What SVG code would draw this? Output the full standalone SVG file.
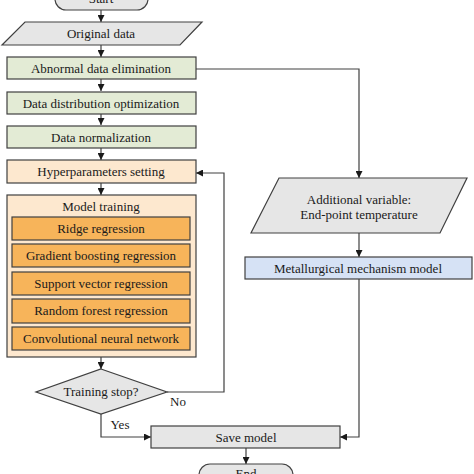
<svg xmlns="http://www.w3.org/2000/svg" width="474" height="474" viewBox="0 0 474 474">
<defs>
<style>
.b{stroke:#404040;stroke-width:1.2}
.g{fill:#e6e6e6}
.gr{fill:#e3ebd5}
.pe{fill:#fde8cf}
.or{fill:#f7b45a}
.bl{fill:#d6e2f5}
.c{fill:none;stroke:#404040;stroke-width:1.2}
</style>
<marker id="a" viewBox="0 0 10 10" refX="10" refY="5" markerWidth="7" markerHeight="7" orient="auto" markerUnits="userSpaceOnUse">
<path d="M0,0 L10,5 L0,10 z" fill="#1a1a1a"/>
</marker>
</defs>
<rect width="474" height="474" fill="#ffffff"/>
<g font-family="Liberation Serif, serif" font-size="13" fill="#1a1a1a" text-anchor="middle">
<g id="connectors">
<line class="c" x1="101" y1="10" x2="101" y2="22" marker-end="url(#a)"/>
<line class="c" x1="101" y1="45" x2="101" y2="57" marker-end="url(#a)"/>
<line class="c" x1="101" y1="79" x2="101" y2="91" marker-end="url(#a)"/>
<line class="c" x1="101" y1="114" x2="101" y2="125" marker-end="url(#a)"/>
<line class="c" x1="101" y1="148" x2="101" y2="160" marker-end="url(#a)"/>
<line class="c" x1="101" y1="183" x2="101" y2="195" marker-end="url(#a)"/>
<line class="c" x1="101" y1="357" x2="101" y2="369" marker-end="url(#a)"/>
<polyline class="c" points="167,392 224,392 224,173 196,173" marker-end="url(#a)"/>
<polyline class="c" points="101,414 101,437 151,437" marker-end="url(#a)"/>
<polyline class="c" points="196,69 359,69 359,178" marker-end="url(#a)"/>
<line class="c" x1="359" y1="233" x2="359" y2="257" marker-end="url(#a)"/>
<polyline class="c" points="359,279 359,437 340,437" marker-end="url(#a)"/>
<line class="c" x1="246" y1="448" x2="246" y2="464" marker-end="url(#a)"/>
<text x="178" y="406">No</text>
<text x="120" y="429">Yes</text>
</g>
<g id="start"><rect class="b g" x="55" y="-15" width="93" height="25" rx="11"/><text x="101" y="3">Start</text></g>
<g id="original"><polygon class="b g" points="25,22 202,22 180,45 2,45"/><text x="101" y="38">Original data</text></g>
<g id="abnormal"><rect class="b gr" x="7" y="57" width="189" height="22"/><text x="101" y="73">Abnormal data elimination</text></g>
<g id="distribution"><rect class="b gr" x="7" y="92" width="189" height="22"/><text x="101" y="108">Data distribution optimization</text></g>
<g id="normalization"><rect class="b gr" x="7" y="126" width="189" height="22"/><text x="101" y="142">Data normalization</text></g>
<g id="hyper"><rect class="b pe" x="7" y="160" width="189" height="23"/><text x="101" y="176">Hyperparameters setting</text></g>
<g id="training"><rect class="b pe" x="7" y="195" width="189" height="162"/><text x="101" y="211">Model training</text>
<g id="ridge"><rect class="b or" x="12" y="217" width="178" height="23"/><text x="101" y="233">Ridge regression</text></g>
<g id="gbr"><rect class="b or" x="12" y="244" width="178" height="23"/><text x="101" y="260">Gradient boosting regression</text></g>
<g id="svr"><rect class="b or" x="12" y="272" width="178" height="23"/><text x="101" y="288">Support vector regression</text></g>
<g id="rf"><rect class="b or" x="12" y="299" width="178" height="24"/><text x="101" y="315">Random forest regression</text></g>
<g id="cnn"><rect class="b or" x="12" y="327" width="178" height="23"/><text x="101" y="343">Convolutional neural network</text></g>
</g>
<g id="stop"><polygon class="b g" points="101,369 167,392 101,414 36,392"/><text x="101" y="396">Training stop?</text></g>
<g id="save"><rect class="b g" x="151" y="426" width="189" height="22"/><text x="246" y="442">Save model</text></g>
<g id="end"><rect class="b g" x="199" y="464" width="94" height="25" rx="11"/><text x="246" y="478">End</text></g>
<g id="additional"><polygon class="b g" points="279,178 467,178 440,233 251,233"/><text x="359" y="204">Additional variable:</text><text x="359" y="219">End-point temperature</text></g>
<g id="mechanism"><rect class="b bl" x="245" y="257" width="227" height="22"/><text x="358" y="273">Metallurgical mechanism model</text></g>
</g>
</svg>
